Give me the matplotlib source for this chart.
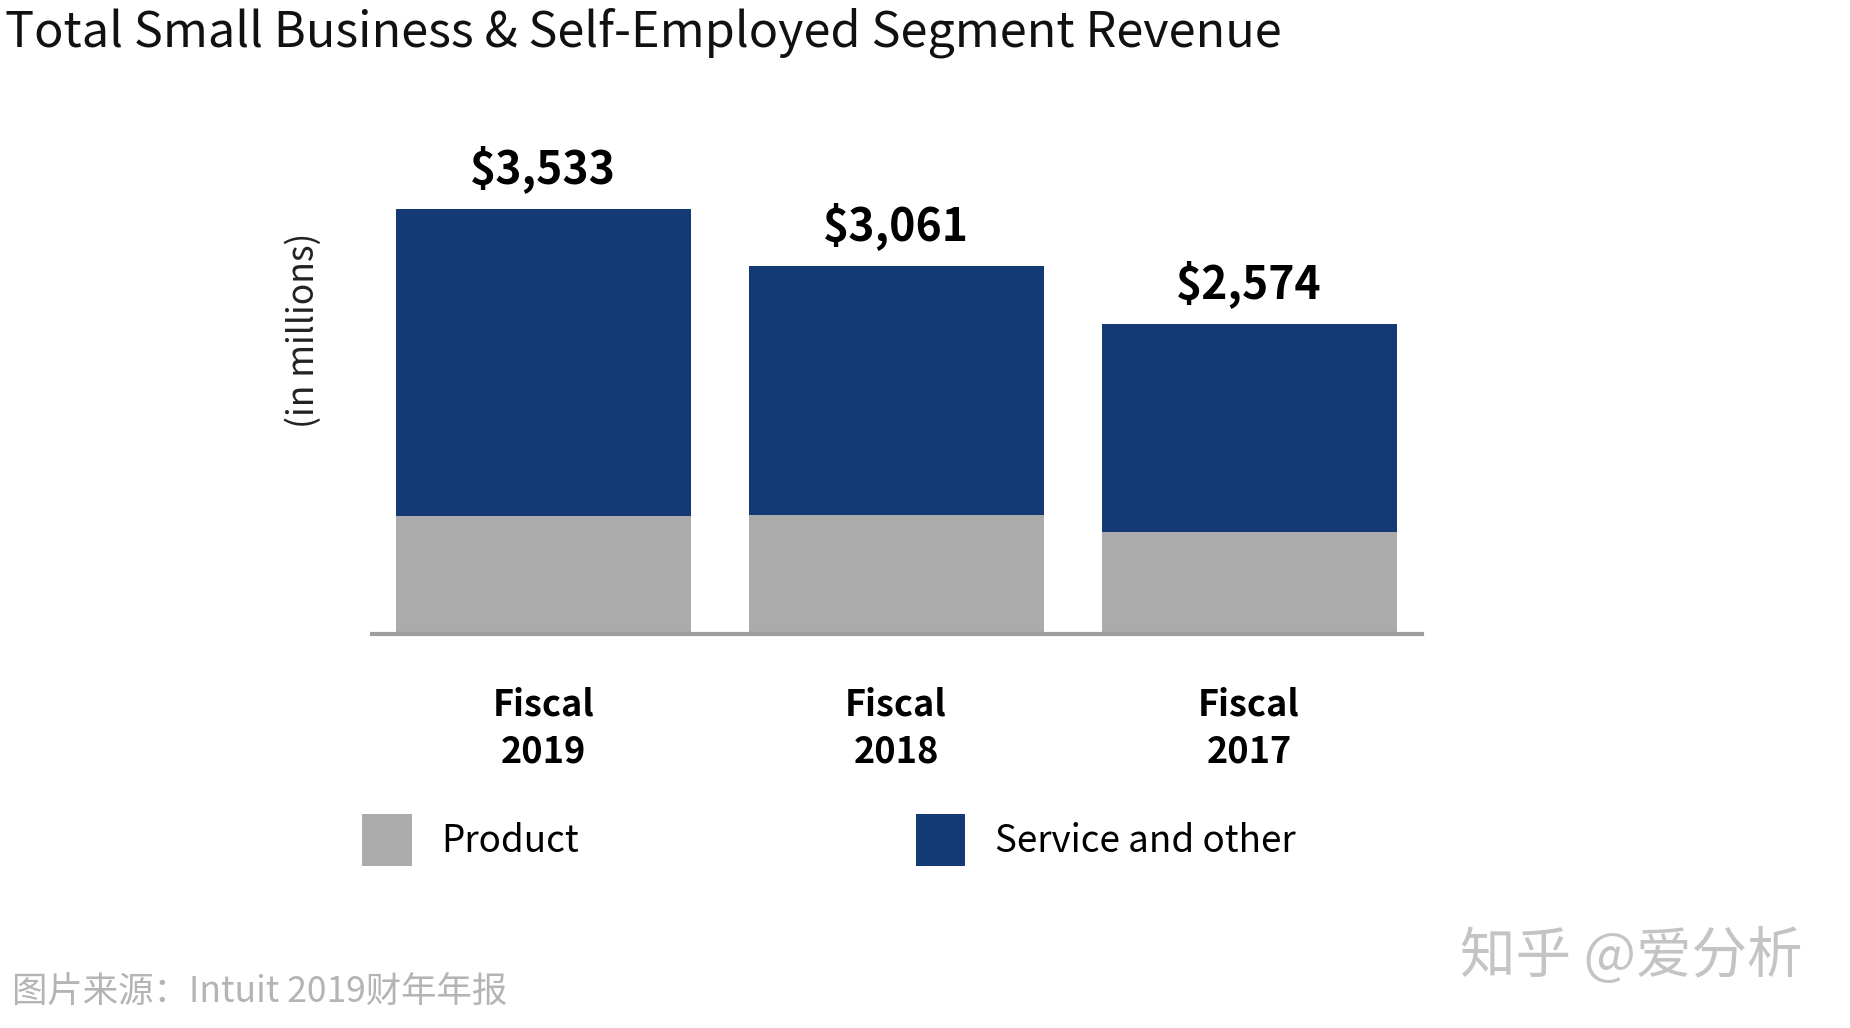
import matplotlib
matplotlib.use("Agg")
import matplotlib.pyplot as plt
from matplotlib.patches import Patch

plt.rcParams["font.family"] = ["Noto Sans CJK SC", "DejaVu Sans"]

# Data (in millions)
years = ["Fiscal\n2019", "Fiscal\n2018", "Fiscal\n2017"]
totals = [3533, 3061, 2574]
product = [984, 993, 846]
service = [t - p for t, p in zip(totals, product)]
total_labels = ["$3,533", "$3,061", "$2,574"]

blue = "#133a75"
grey = "#ababab"

fig = plt.figure(figsize=(18.5, 10.28), dpi=100)
ax = fig.add_axes([372 / 1850, 394 / 1028, 1050 / 1850, 481 / 1028])

x = list(range(len(years)))
width = 0.836
ax.bar(x, product, width=width, color=grey, label="Product")
ax.bar(x, service, width=width, bottom=product, color=blue, label="Service and other")

# value labels above bars
for xi, t, lab in zip(x, totals, total_labels):
    ax.annotate(lab, xy=(xi, t), xytext=(0, 40), textcoords="offset pixels",
                ha="center", va="center", fontsize=32, fontweight="bold")

# category labels below baseline
for xi, lab in zip(x, years):
    ax.annotate(lab, xy=(xi, 0), xytext=(0, -52), textcoords="offset pixels",
                ha="center", va="top", fontsize=26, fontweight="bold", linespacing=1.35)

ax.set_xlim(-0.485, 2.49)
ax.set_ylim(0, 4000)
for s in ["top", "right", "left"]:
    ax.spines[s].set_visible(False)
ax.spines["bottom"].set_color("#9e9e9e")
ax.spines["bottom"].set_linewidth(3)
ax.set_xticks([])
ax.set_yticks([])

fig.text(304 / 1850, 1 - 330 / 1028, "(in millions)", rotation=90, ha="center", va="center",
         fontsize=25.5, color="#222222")

fig.text(5 / 1850, 1 - 33 / 1028, "Total Small Business & Self-Employed Segment Revenue",
         ha="left", va="center", fontsize=35, color="#111111")

handles = [Patch(facecolor=grey), Patch(facecolor=blue)]
fig.legend(handles, ["Product", "Service and other"], loc="upper left",
           bbox_to_anchor=(362 / 1850, 1 - 814 / 1028), bbox_transform=fig.transFigure,
           ncol=2, frameon=False, fontsize=26.5, handlelength=1.35, handleheight=1.8,
           handletextpad=0.8, columnspacing=9.15, borderpad=0, borderaxespad=0)

fig.text(12 / 1850, 1 - 993 / 1028, "图片来源：Intuit 2019财年年报", ha="left", va="center",
         fontsize=25.5, color="#b4b4b4")
fig.text(1803 / 1850, 1 - 957 / 1028, "知乎 @爱分析", ha="right", va="center",
         fontsize=40, color="#c4c4c4")

fig.savefig("out.png", dpi=100)
